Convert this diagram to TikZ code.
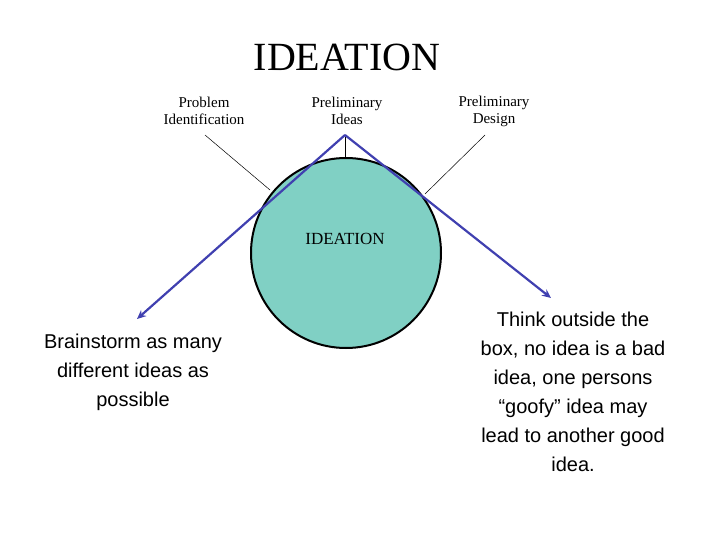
\documentclass[tikz,border=0pt]{standalone}
\usepackage{fontspec}
\setmainfont{Liberation Serif}
\setsansfont{Liberation Sans}
\usetikzlibrary{arrows.meta}
\definecolor{teal1}{RGB}{128,208,196}
\definecolor{blu}{RGB}{64,64,176}
\begin{document}
\begin{tikzpicture}[x=1pt,y=-1pt,
  small/.style={font=\fontsize{15}{17}\selectfont,align=center},
  big/.style={font=\sffamily\fontsize{20}{29}\selectfont,align=center},
  thin/.style={draw=black,line width=0.5pt},
  blue/.style={draw=blu,line width=2.2pt,-{Stealth[length=9pt,width=8pt]}}]
\useasboundingbox (0,0) rectangle (720,540);
\node (title) at (347,57) {\fontsize{40}{44}\selectfont IDEATION};
\node[small] (pi) at (204,111) {Problem\\Identification};
\node[small] (pid) at (347,111) {Preliminary\\Ideas};
\node[small] (pd) at (494,111) {Preliminary\\Design};
\node[circle,draw,line width=2pt,fill=teal1,minimum size=190pt] (c) at (346,253) {};
\node (ci) at (345,239) {\fontsize{17}{20}\selectfont IDEATION};
\coordinate (a) at (205,135); \coordinate (a2) at (270,190);
\coordinate (b) at (345,137); \coordinate (b2) at (345,158);
\coordinate (d) at (485,135); \coordinate (d2) at (425,194);
\draw[thin] (a) -- (a2); \draw[thin] (b) -- (b2); \draw[thin] (d) -- (d2);
\coordinate (apex) at (345,135);
\coordinate (l) at (137,319);
\coordinate (r) at (551,298);
\draw[blue] (apex) -- (l);
\draw[blue] (apex) -- (r);
\node[big] (bl) at (133,372) {Brainstorm as many\\different ideas as\\possible};
\node[big] (br) at (573,392) {Think outside the\\box, no idea is a bad\\idea, one persons\\“goofy” idea may\\lead to another good\\idea.};
\end{tikzpicture}
\end{document}
